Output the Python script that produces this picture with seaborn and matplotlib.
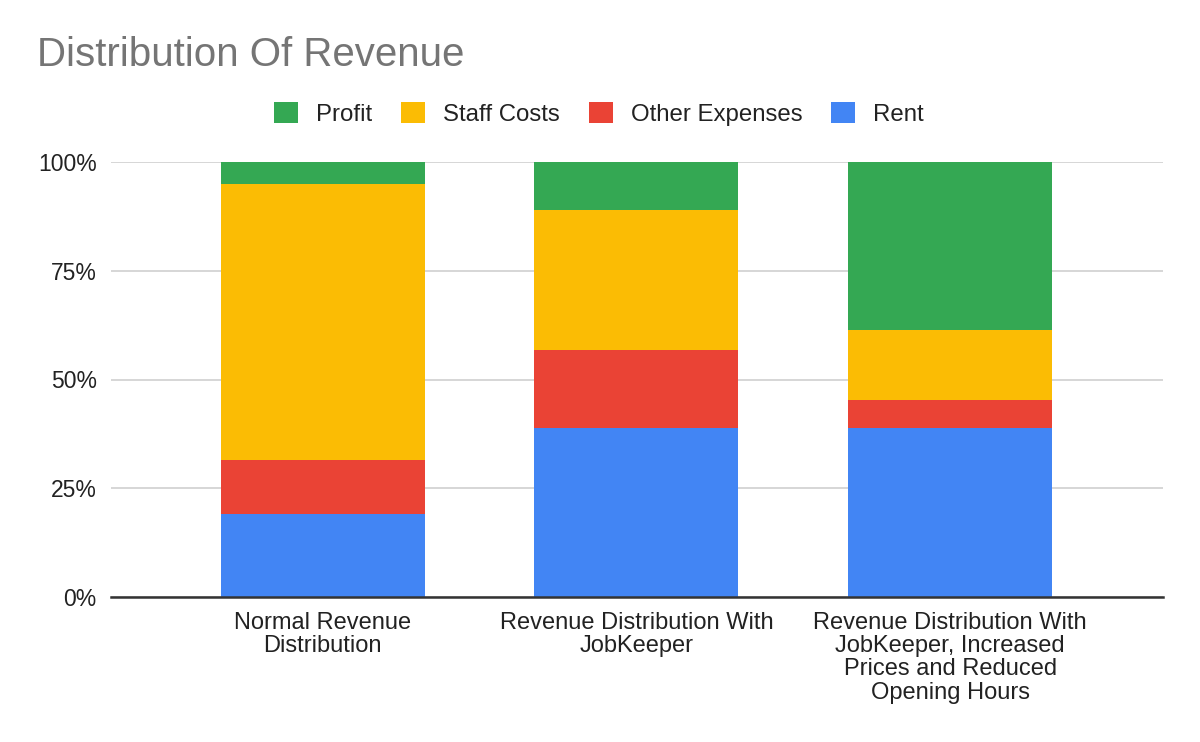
import matplotlib
matplotlib.use('Agg')
import pandas as pd
import seaborn as sns
import matplotlib.pyplot as plt
from matplotlib.patches import Patch
from matplotlib.ticker import PercentFormatter

# Data (shares of revenue, %)
scenarios = [
    'Normal Revenue\nDistribution',
    'Revenue Distribution With\nJobKeeper',
    'Revenue Distribution With\nJobKeeper, Increased\nPrices and Reduced\nOpening Hours',
]
rent = [19.1, 38.9, 38.9]
other_expenses = [12.4, 17.9, 6.4]
staff_costs = [63.5, 32.2, 16.1]
profit = [5.0, 11.0, 38.6]

stack_order = ['Rent', 'Other Expenses', 'Staff Costs', 'Profit']  # bottom -> top
legend_order = ['Profit', 'Staff Costs', 'Other Expenses', 'Rent']
colors = {
    'Rent': '#4285F4',
    'Other Expenses': '#EA4335',
    'Staff Costs': '#FBBC04',
    'Profit': '#34A853',
}

df = pd.DataFrame({
    'scenario': scenarios,
    'Rent': rent,
    'Other Expenses': other_expenses,
    'Staff Costs': staff_costs,
    'Profit': profit,
})
# 100% stacked: cumulative share of the total
cum = df[stack_order].cumsum(axis=1)
cum = cum.div(cum[stack_order[-1]], axis=0) * 100
cum['scenario'] = df['scenario']

sns.set_theme(style='white')
plt.rcParams['font.family'] = ['Liberation Sans', 'DejaVu Sans']

fig = plt.figure(figsize=(12, 7.42), dpi=100)
ax = fig.add_axes([110.7 / 1200, 1 - 597 / 742, (1163 - 110.7) / 1200, (597 - 162) / 742])

# draw the tallest (cumulative) layer first so lower layers sit on top
for name in reversed(stack_order):
    sns.barplot(data=cum, x='scenario', y=name, order=scenarios,
                color=colors[name], saturation=1, width=0.65,
                errorbar=None, ax=ax, zorder=2, linewidth=0)

ax.set_xlim(-0.675, 2.678)
ax.set_ylim(0, 100)
ax.set_yticks([0, 25, 50, 75, 100])
ax.yaxis.set_major_formatter(PercentFormatter(xmax=100, decimals=0))
ax.set_xlabel('')
ax.set_ylabel('')

ax.grid(axis='y', color='#cccccc', linewidth=1.1)
ax.grid(axis='x', visible=False)
ax.set_axisbelow(True)
for side in ['left', 'right', 'top']:
    ax.spines[side].set_visible(False)
ax.spines['bottom'].set_color('#333333')
ax.spines['bottom'].set_linewidth(1.8)
ax.spines['bottom'].set_zorder(5)

ax.tick_params(axis='both', length=0, labelcolor='#222222')
ax.tick_params(axis='y', pad=10, labelsize=16.5)
ax.tick_params(axis='x', pad=10.5, labelsize=17)
for lbl in ax.get_xticklabels():
    lbl.set_linespacing(1.08)

fig.text(37 / 1200, 1 - 55 / 742, 'Distribution Of Revenue', fontsize=29,
         color='#757575', ha='left', va='center')

handles = [Patch(facecolor=colors[n], edgecolor='none', label=n) for n in legend_order]
fig.legend(handles=handles, loc='center', bbox_to_anchor=(599 / 1200, 1 - 114 / 742),
           ncol=4, frameon=False, fontsize=17.3, handlelength=1.0, handleheight=0.95,
           handletextpad=0.75, columnspacing=1.2, labelcolor='#222222')

fig.savefig('out.png', dpi=100)
